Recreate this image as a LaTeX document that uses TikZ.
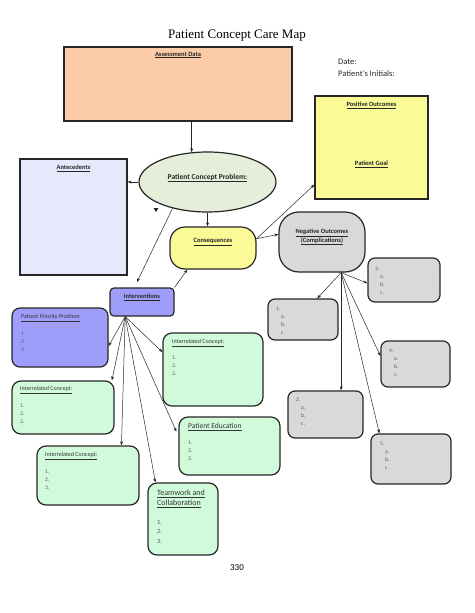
\documentclass[tikz,border=0pt]{standalone}
\usepackage{fontspec}
\setmainfont{Carlito}
\newfontfamily\titlefont{Liberation Serif}
\usepackage{xcolor}
\usetikzlibrary{shapes.geometric,arrows.meta}

\definecolor{peach}{RGB}{252,204,168}
\definecolor{lemon}{RGB}{250,250,150}
\definecolor{lavender}{RGB}{232,232,252}
\definecolor{sage}{RGB}{230,238,218}
\definecolor{stone}{RGB}{217,217,217}
\definecolor{periwinkle}{RGB}{158,158,250}
\definecolor{mint}{RGB}{208,250,218}

\tikzset{
  box/.style={draw=black!85, line width=1.2pt, inner sep=0pt},
  gbox/.style={box, fill=stone, rounded corners=7pt},
  mbox/.style={box, fill=mint, rounded corners=9pt},
  arr/.style={-{Stealth[length=4pt,width=3pt]}, line width=0.5pt, draw=black!85},
  hd/.style={font=\fontsize{6.5}{7.5}\selectfont\bfseries, text=black!85, inner sep=0pt},
  sub/.style={font=\fontsize{6}{7}\selectfont, text=black!80, inner sep=0pt, anchor=west},
  items/.style={font=\fontsize{5.5}{8}\selectfont, text=black!65, inner sep=0pt, anchor=north west, align=left},
}

\begin{document}
\begin{tikzpicture}[x=1pt,y=1pt,yscale=-1,xscale=1]
  \useasboundingbox (0,0) rectangle (474,613);

  % title and header
  \node[inner sep=0pt, font=\titlefont\fontsize{13}{15}\selectfont] (title) at (237,36) {Patient Concept Care Map};
  \node[inner sep=0pt, anchor=north west, align=left, font=\fontsize{8.5}{11.5}\selectfont, text=black!85] (date) at (338,59) {Date:\\Patient's Initials:};

  % top boxes
  \node[box, fill=peach, minimum width=228pt, minimum height=74pt] (assess) at (178,84) {};
  \node[hd] (assesslbl) at (178,55) {\underline{Assessment Data}};
  \node[box, fill=lemon, minimum width=113pt, minimum height=103pt] (pos) at (371.5,147.5) {};
  \node[hd] (poslbl) at (371.5,105) {\underline{Positive Outcomes}};
  \node[hd] (goal) at (371.5,164) {\underline{Patient Goal}};
  \node[box, fill=lavender, minimum width=107pt, minimum height=116pt] (ante) at (73.5,217) {};
  \node[hd] (antelbl) at (73.5,168) {\underline{Antecedents}};
  \node[box, ellipse, fill=sage, minimum width=137pt, minimum height=60pt] (pcp) at (207.5,182) {};
  \node[hd, font=\fontsize{7.5}{8.5}\selectfont\bfseries] (pcplbl) at (207.5,178) {\underline{Patient Concept Problem:}};
  \node[box, fill=lemon, rounded corners=15pt, minimum width=86pt, minimum height=42pt] (cons) at (213,248) {};
  \node[hd] (conslbl) at (213,242) {\underline{Consequences}};
  \node[box, fill=stone, rounded corners=20pt, minimum width=86pt, minimum height=60pt] (neg) at (322,242) {};
  \node[hd, align=center] (neglbl) at (322,237) {\underline{Negative Outcomes}\\\underline{(Complications)}};

  % complications
  \node[gbox, minimum width=72pt, minimum height=44pt] (n3) at (404,280) {};
  \node[items] (n3txt) at (375,266.5) {3.\\\hspace*{5pt}a.\\\hspace*{5pt}b.\\\hspace*{5pt}c.};
  \node[gbox, minimum width=70pt, minimum height=41pt] (n1) at (303,319.5) {};
  \node[items] (n1txt) at (276,306.5) {1.\\\hspace*{5pt}a.\\\hspace*{5pt}b.\\\hspace*{5pt}c.};
  \node[gbox, minimum width=69pt, minimum height=46pt] (n4) at (415.5,364) {};
  \node[items] (n4txt) at (389,348.5) {4.\\\hspace*{5pt}a.\\\hspace*{5pt}b.\\\hspace*{5pt}c.};
  \node[gbox, minimum width=75pt, minimum height=47pt] (n2) at (325.5,414.5) {};
  \node[items] (n2txt) at (296,397.5) {2.\\\hspace*{5pt}a.\\\hspace*{5pt}b.\\\hspace*{5pt}c.};
  \node[gbox, minimum width=80pt, minimum height=50pt] (n5) at (411,459) {};
  \node[items] (n5txt) at (380,441.5) {5.\\\hspace*{5pt}a.\\\hspace*{5pt}b.\\\hspace*{5pt}c.};

  % interventions
  \node[box, fill=periwinkle, rounded corners=4pt, minimum width=64pt, minimum height=28pt] (interv) at (142,302) {};
  \node[hd] (intervlbl) at (142,297) {\underline{Interventions}};
  \node[box, fill=periwinkle, rounded corners=8pt, minimum width=96pt, minimum height=59pt] (ppp) at (60,337.5) {};
  \node[sub] (ppplbl) at (21,318) {\underline{Patient Priority Problem}};
  \node[items] (ppptxt) at (21,331.5) {1.\\2.\\3.};
  \node[mbox, minimum width=102pt, minimum height=53pt] (ic1) at (63,407.5) {};
  \node[sub] (ic1lbl) at (20,390) {\underline{Interrelated Concept:}};
  \node[items] (ic1txt) at (20,403.5) {1.\\2.\\3.};
  \node[mbox, minimum width=100pt, minimum height=73pt] (ic2) at (213,369.5) {};
  \node[sub] (ic2lbl) at (172,343) {\underline{Interrelated Concept:}};
  \node[items] (ic2txt) at (172,355.5) {1.\\2.\\3.};
  \node[mbox, minimum width=101pt, minimum height=58pt] (edu) at (229.5,446) {};
  \node[sub, font=\fontsize{7.5}{8.5}\selectfont] (edulbl) at (188,427) {\underline{Patient Education}};
  \node[items] (edutxt) at (188,440.5) {1.\\2.\\3.};
  \node[mbox, minimum width=102pt, minimum height=59pt] (ic3) at (88,475.5) {};
  \node[sub] (ic3lbl) at (45,456) {\underline{Interrelated Concept:}};
  \node[items] (ic3txt) at (45,469.5) {1.\\2.\\3.};
  \node[mbox, minimum width=70pt, minimum height=72pt] (team) at (183,519) {};
  \node[inner sep=0pt, anchor=north west, align=left, font=\fontsize{8}{10}\selectfont, text=black!80] (teamlbl) at (157,490) {\underline{Teamwork and}\\\underline{Collaboration}};
  \node[items, font=\fontsize{6.5}{9.5}\selectfont] (teamtxt) at (157,520) {1.\\2.\\3.};

  \node[inner sep=0pt, font=\fontsize{9}{10}\selectfont] (page) at (237,568) {330};

  % connectors
  \draw[arr] (assess.south -| pcp.118) -- (pcp.118);
  \draw[arr] (pcp.west) -- (pcp.west -| ante.east);
  \draw[arr] (pcp.south) -- (pcp.south |- cons.north);
  \coordinate (intop) at (137,282);
  \draw[arr] (pcp.217) -- (intop);
  \fill[black!85] (153.5,208) -- (158.5,208) -- (156,212) -- cycle;
  \draw[arr] (interv.north east) -- (cons.220);
  \draw[arr] (cons.12) -- (pos.213);
  \draw[arr] (cons.12) -- (neg.170);

  \draw[arr] (neg.-58) -- (n3.185);
  \draw[arr] (neg.-58) -- (n1.56);
  \draw[arr] (neg.-58) -- (neg.-58 |- n2.north);
  \draw[arr] (neg.-58) -- (n4.167);
  \draw[arr] (neg.-58) -- (n5.141);

  \draw[arr] (interv.221) -- (ppp.-10);
  \draw[arr] (interv.221) -- (ic1.29);
  \draw[arr] (interv.221) -- (ic2.161);
  \draw[arr] (interv.221) -- (ic3.42);
  \draw[arr, shorten >=5pt] (interv.221) -- (edu.169);
  \draw[arr] (interv.221) -- (team.127);
\end{tikzpicture}
\end{document}
